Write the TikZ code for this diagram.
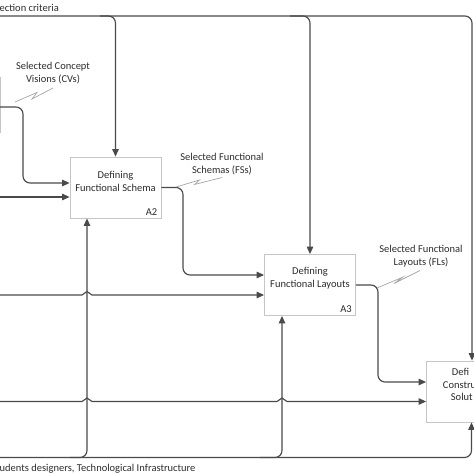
\documentclass[tikz,border=0pt]{standalone}
\usepackage{fontspec}
\setmainfont{Carlito}
\usetikzlibrary{arrows.meta}
\definecolor{ln}{HTML}{4A4A4A}
\definecolor{tx}{HTML}{2C2C2C}
\definecolor{bx}{HTML}{C6C6C6}
\definecolor{sq}{HTML}{A6A6A6}
\begin{document}
\begin{tikzpicture}[x=1pt,y=-1pt,
  font=\fontsize{10.5}{13}\selectfont,
  box/.style={draw=bx, line width=0.8pt, fill=white, minimum width=91pt, minimum height=61pt, inner sep=0pt},
  boxtext/.style={text=tx, align=center, inner sep=0pt},
  lab/.style={text=tx, align=center, inner sep=0pt},
  flow/.style={draw=ln, line width=1.15pt, rounded corners=7pt},
  flat/.style={draw=ln, line width=1.15pt},
  tip/.style={-{Triangle[length=7.5pt,width=6.5pt]}},
  squig/.style={draw=sq, line width=0.7pt}]
\useasboundingbox (0,0) rectangle (474,474);
\clip (0,0) rectangle (474,474);

% boxes
\node[box] (A2) at (115.5,187.5) {};
\node[box] (A3) at (310,285) {};
\node[box] (A4) at (472,391.5) {};
\node[boxtext] (A2t) at ([yshift=6pt]A2.center) {Defining\\Functional Schema};
\node[boxtext] (A3t) at ([yshift=6.5pt]A3.center) {Defining\\Functional Layouts};
\node[text=tx, anchor=base east, inner sep=0pt] (A2n) at ([xshift=-4pt,yshift=3pt]A2.south east) {A2};
\node[text=tx, anchor=base east, inner sep=0pt] (A3n) at ([xshift=-4pt,yshift=3pt]A3.south east) {A3};
\node[text=tx, anchor=west, inner sep=0pt] (A4a) at (451.7,372.3) {Defi};
\node[text=tx, anchor=west, inner sep=0pt] (A4b) at (442.7,385) {Constru};
\node[text=tx, anchor=west, inner sep=0pt] (A4c) at (450.7,397.3) {Solut};

% remnant of the A1 box edge
\coordinate (e1) at (0.7,77);
\coordinate (e2) at (0.7,133);
\draw[draw=bx, line width=1pt] (e1) -- (e2);

% outer labels
\node[text=tx, anchor=west, inner sep=0pt] (ctl) at (-0.5,7.5) {ection criteria};
\node[text=tx, anchor=west, inner sep=0pt] (mech) at (-0.5,469) {udents designers, Technological Infrastructure};

% controls
\coordinate (c0) at (0,16);
\coordinate (c1) at (100,16);
\coordinate (c2) at (290,16);
\draw[flow,tip] (c0) -| (A2.north);
\draw[flow,tip] (c1) -| (A3.north);
\draw[flow,tip] (c2) -| (A4.north);

% inputs to A2
\coordinate (i1) at (0,107);
\coordinate (k1) at (23,140);
\coordinate (a2i1) at ([yshift=4.5pt]A2.west);
\draw[flow,tip] (i1) -| (k1) |- (a2i1);
\coordinate (i2) at (0,197);
\coordinate (a2i2) at ([yshift=-9.5pt]A2.west);
\draw[flat,tip] (i2) -- (a2i2);

% A2 output -> A3
\coordinate (k2) at (183,230);
\coordinate (a3i1) at ([yshift=10pt]A3.west);
\draw[flow,tip] (A2.east) -| (k2) |- (a3i1);

% input to A3 with hump
\coordinate (i3) at (0,295);
\coordinate (a3i2) at ([yshift=-10pt]A3.west);
\draw[flat,tip] (i3) -- (82,295) .. controls (84.5,295) and (84.5,291.5) .. (87,291.5)
  .. controls (89.5,291.5) and (89.5,295) .. (92,295) -- (a3i2);

% A3 output -> A4
\coordinate (k3) at (378,330);
\coordinate (a4i1) at ([yshift=9.5pt]A4.west);
\draw[flow,tip] (A3.east) -| (k3) |- (a4i1);

% input to A4 with humps
\coordinate (i4) at (0,401.5);
\coordinate (a4i2) at ([yshift=-10pt]A4.west);
\draw[flat,tip] (i4) -- (82,401.5) .. controls (84.5,401.5) and (84.5,398) .. (87,398)
  .. controls (89.5,398) and (89.5,401.5) .. (92,401.5)
  -- (277,401.5) .. controls (279.5,401.5) and (279.5,398) .. (282,398)
  .. controls (284.5,398) and (284.5,401.5) .. (287,401.5) -- (a4i2);

% mechanisms
\coordinate (m0) at (0,457.5);
\coordinate (m1) at (70,457.5);
\coordinate (m2) at (260,457.5);
\coordinate (mA2) at ([xshift=-28.5pt]A2.south);
\coordinate (mA3) at ([xshift=-28pt]A3.south);
\coordinate (mA4) at ([xshift=-0.5pt]A4.south);
\draw[flow,tip] (m0) -| (mA2);
\draw[flow,tip] (m1) -| (mA3);
\draw[flow,tip] (m2) -| (mA4);

% labels with squiggles
\node[lab] (cv) at (53,73.5) {Selected Concept\\Visions (CVs)};
\node[lab] (fs) at (222,164.5) {Selected Functional\\Schemas (FSs)};
\node[lab] (fl) at (421,256.5) {Selected Functional\\Layouts (FLs)};
\coordinate (s1a) at (15,102);
\coordinate (s1b) at (53,88);
\draw[squig] (s1a) -- (37,92.5) -- (32,99) -- (s1b);
\coordinate (s2a) at (176,187);
\coordinate (s2b) at (222,177.5);
\draw[squig] (s2a) -- (199.5,180) -- (194.5,184.5) -- (s2b);
\coordinate (s3a) at (377,288);
\coordinate (s3b) at (420,270.5);
\draw[squig] (s3a) -- (403,277) -- (394,283.5) -- (s3b);
\end{tikzpicture}
\end{document}
